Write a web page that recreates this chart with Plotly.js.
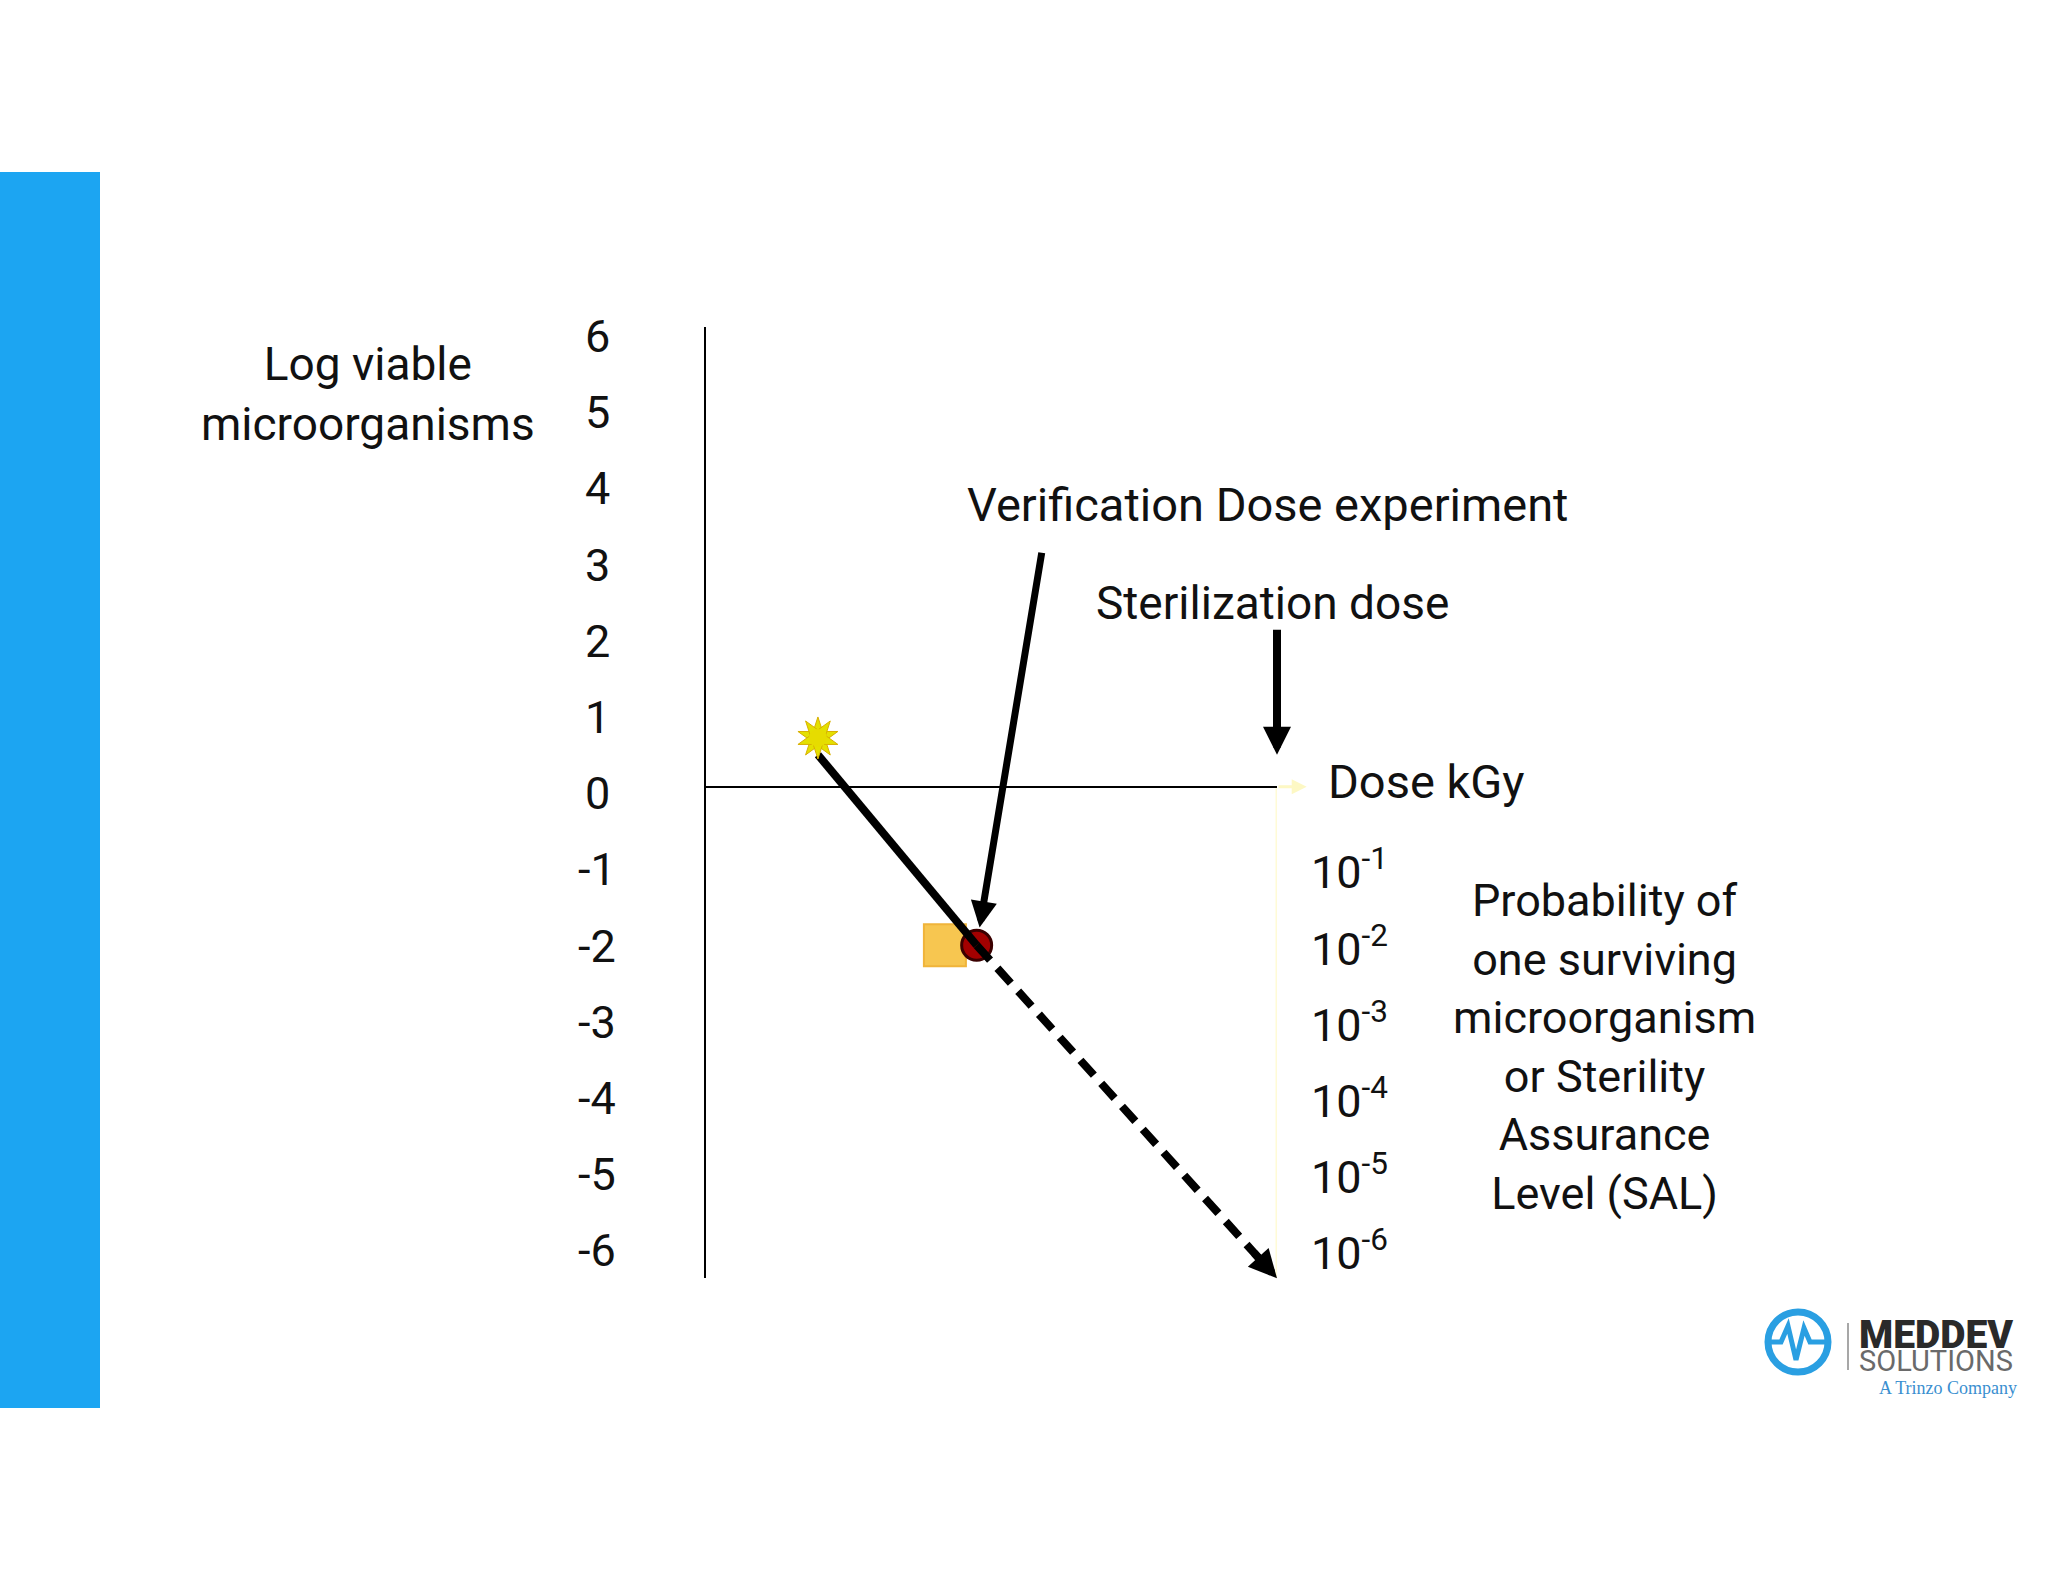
<!DOCTYPE html>
<html>
<head>
<meta charset="utf-8">
<script src="https://cdn.plot.ly/plotly-3.0.1.min.js"></script>
<style>html,body{margin:0;padding:0;background:#fff;}#chart{width:2048px;height:1582px;}</style>
</head>
<body>
<div id="chart"></div>
<script>
// ---- data ----
const logTickValues = [6, 5, 4, 3, 2, 1, 0, -1, -2, -3, -4, -5, -6];
const salLevels = [-1, -2, -3, -4, -5, -6];
const salTickText = ['10<sup>-1</sup>', '10<sup>-2</sup>', '10<sup>-3</sup>', '10<sup>-4</sup>', '10<sup>-5</sup>', '10<sup>-6</sup>'];
const curveDose = [4.9, 11.85];          // kGy: inoculum start -> verification dose
const curveLog = [0.42, -2.08];          // log viable microorganisms
const extrapDose = [11.85, 25];          // verification dose -> sterilization dose
const extrapLog = [-2.08, -6.45];
const inoculumDose = [4.9];
const inoculumLog = [0.64];
const sampleDose = [10.46];
const sampleLog = [-2.08];
const verificationDose = [11.85];
const verificationLog = [-2.08];
const sterilizationDose = [25];
const probabilityLines = ['Probability of', 'one surviving', 'microorganism', 'or Sterility', 'Assurance', 'Level (SAL)'];
const yTitleLines = ['Log viable', 'microorganisms'];

// ---- page geometry helpers ----
const W = 2048, H = 1582;
const px = v => v / W;
const py = v => 1 - v / H;
const FONT = 'Roboto, "Noto Sans", sans-serif';
const TXT = '#111111';

const traces = [
  { x: sampleDose, y: sampleLog, mode: 'markers', type: 'scatter', hoverinfo: 'skip',
    marker: { symbol: 'square', size: 42, color: '#f7c650', line: { color: '#f0b43a', width: 2 } } },
  { x: verificationDose, y: verificationLog, mode: 'markers', type: 'scatter', hoverinfo: 'skip',
    marker: { symbol: 'circle', size: 30, color: '#a30000', line: { color: '#3a0000', width: 3 } } },
  { x: curveDose, y: curveLog, mode: 'lines', type: 'scatter', hoverinfo: 'skip',
    line: { color: '#000', width: 8 } },
  { x: [extrapDose[0], extrapDose[0] + 0.95 * (extrapDose[1] - extrapDose[0])],
    y: [extrapLog[0], extrapLog[0] + 0.95 * (extrapLog[1] - extrapLog[0])],
    mode: 'lines', type: 'scatter', hoverinfo: 'skip',
    line: { color: '#000', width: 8, dash: '20px,11px' } },
  { x: inoculumDose, y: inoculumLog, mode: 'markers', type: 'scatter', hoverinfo: 'skip',
    marker: { symbol: 'star', size: 30, color: '#e4e000', line: { color: '#d8b000', width: 1 } } },
  { x: inoculumDose, y: inoculumLog, mode: 'markers', type: 'scatter', hoverinfo: 'skip',
    marker: { symbol: 'star', angle: 36, size: 30, color: '#e4e000', line: { color: '#d8b000', width: 1 } } },
  { x: inoculumDose, y: inoculumLog, mode: 'markers', type: 'scatter', hoverinfo: 'skip',
    marker: { symbol: 'circle', size: 18, color: '#e6dc00', line: { width: 0 } } }
];

const ann = [];
// y tick labels
logTickValues.forEach(v => ann.push({ xref: 'paper', yref: 'y', x: px(597), y: v, yshift: -7,
  text: String(v), showarrow: false, xanchor: 'center', yanchor: 'middle',
  font: { family: FONT, size: 45, color: TXT } }));
// SAL labels on right
salLevels.forEach((v, i) => ann.push({ xref: 'paper', yref: 'y', x: px(1309), y: v, yshift: -7,
  text: salTickText[i], showarrow: false, xanchor: 'left', yanchor: 'middle',
  font: { family: FONT, size: 45, color: TXT } }));
// titles
ann.push({ xref: 'paper', yref: 'paper', x: px(368), y: py(394), text: yTitleLines.join('<br>'),
  showarrow: false, xanchor: 'center', yanchor: 'middle', align: 'center',
  font: { family: FONT, size: 46, color: TXT } });
ann.push({ xref: 'paper', yref: 'paper', x: px(1604), y: py(1047), text: probabilityLines.join('<br>'),
  showarrow: false, xanchor: 'center', yanchor: 'middle', align: 'center',
  font: { family: FONT, size: 45, color: TXT } });
ann.push({ xref: 'paper', yref: 'paper', x: px(1268), y: py(504), text: 'Verification Dose experiment',
  showarrow: false, xanchor: 'center', yanchor: 'middle', font: { family: FONT, size: 47, color: TXT } });
ann.push({ xref: 'paper', yref: 'paper', x: px(1272), y: py(603), text: 'Sterilization dose',
  showarrow: false, xanchor: 'center', yanchor: 'middle', font: { family: FONT, size: 46, color: TXT } });
ann.push({ xref: 'paper', yref: 'paper', x: px(1326), y: py(781), text: 'Dose kGy',
  showarrow: false, xanchor: 'left', yanchor: 'middle', font: { family: FONT, size: 47, color: TXT } });
// arrows
ann.push({ xref: 'x', yref: 'y', x: verificationDose[0], y: verificationLog[0], axref: 'x', ayref: 'y',
  ax: 14.71, ay: 3.09, text: '', showarrow: true, arrowhead: 2, arrowsize: 0.75, arrowwidth: 7,
  arrowcolor: '#000', standoff: 18 });
ann.push({ xref: 'x', yref: 'y', x: sterilizationDose[0], y: 0, axref: 'x', ayref: 'y',
  ax: sterilizationDose[0], ay: 2.08, text: '', showarrow: true, arrowhead: 2, arrowsize: 0.7, arrowwidth: 8,
  arrowcolor: '#000', standoff: 32 });
ann.push({ xref: 'x', yref: 'y', x: extrapDose[1], y: extrapLog[1], axref: 'x', ayref: 'y',
  ax: extrapDose[1] - 0.08 * (extrapDose[1] - extrapDose[0]), ay: extrapLog[1] - 0.08 * (extrapLog[1] - extrapLog[0]),
  text: '', showarrow: true, arrowhead: 2, arrowsize: 0.7, arrowwidth: 8, arrowcolor: '#000', standoff: 0 });
// faint yellow axis arrow
ann.push({ xref: 'x', yref: 'y', x: sterilizationDose[0] + 1.3, y: 0, axref: 'x', ayref: 'y',
  ax: sterilizationDose[0], ay: 0, text: '', showarrow: true, arrowhead: 2, arrowsize: 1, arrowwidth: 3,
  arrowcolor: '#fdf8c4', standoff: 0 });
// logo text
ann.push({ xref: 'paper', yref: 'paper', x: px(1857), y: py(1335), text: 'MEDDEV', showarrow: false,
  xanchor: 'left', yanchor: 'middle', font: { family: FONT, size: 39, weight: 900, color: '#2a2a2a' } });
ann.push({ xref: 'paper', yref: 'paper', x: px(1857), y: py(1361), text: 'SOLUTIONS', showarrow: false,
  xanchor: 'left', yanchor: 'middle', font: { family: FONT, size: 29, color: '#6a6a6a' } });
ann.push({ xref: 'paper', yref: 'paper', x: px(2019), y: py(1388), text: 'A Trinzo Company', showarrow: false,
  xanchor: 'right', yanchor: 'middle', font: { family: '"Liberation Serif", serif', size: 18, color: '#3a8fd0' } });

// logo pulse path
const pulse = [[1766,1342],[1781,1342],[1788,1326],[1796,1360],[1804,1328],[1810,1342],[1830,1342]];
const pulsePath = 'M' + pulse.map(p => px(p[0]) + ',' + py(p[1])).join('L');

const shapes = [
  { type: 'rect', xref: 'paper', yref: 'paper', x0: 0, x1: px(100), y0: py(1408), y1: py(172),
    fillcolor: '#1ca5f2', line: { width: 0 }, layer: 'below' },
  { type: 'line', xref: 'x', yref: 'y', x0: sterilizationDose[0], x1: sterilizationDose[0], y0: 0, y1: extrapLog[1],
    line: { color: '#fffbd6', width: 3 }, layer: 'below' },
  { type: 'circle', xref: 'paper', yref: 'paper', x0: px(1768), x1: px(1828), y0: py(1372), y1: py(1312),
    line: { color: '#2a9fe2', width: 7 } },
  { type: 'path', xref: 'paper', yref: 'paper', path: pulsePath, line: { color: '#2a9fe2', width: 5 } },
  { type: 'line', xref: 'paper', yref: 'paper', x0: px(1848), x1: px(1848), y0: py(1323), y1: py(1370),
    line: { color: '#8a8a8a', width: 1.5 } }
];

const layout = {
  width: W, height: H, margin: { l: 0, r: 0, t: 0, b: 0 },
  paper_bgcolor: '#fff', plot_bgcolor: 'rgba(0,0,0,0)', showlegend: false,
  xaxis: { domain: [px(706), px(1277)], range: [0, 25], showgrid: false, zeroline: false,
    showline: false, showticklabels: false, ticks: '', fixedrange: true },
  yaxis: { domain: [py(1278), py(327)], range: [-6.447, 6.033], showgrid: false,
    zeroline: true, zerolinecolor: '#000', zerolinewidth: 1.6,
    showline: true, linecolor: '#000', linewidth: 1.6, showticklabels: false, ticks: '', fixedrange: true },
  annotations: ann, shapes: shapes
};

Plotly.newPlot('chart', traces, layout, { displayModeBar: false, staticPlot: true });
</script>
</body>
</html>
